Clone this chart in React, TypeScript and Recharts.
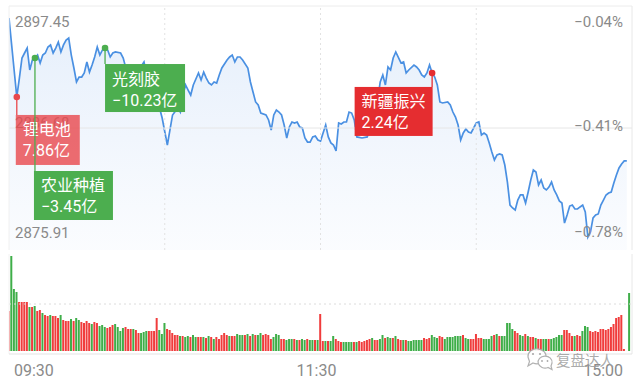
import React from 'react';
import { ComposedChart, Area, Bar, Cell, XAxis, YAxis, ReferenceLine, ReferenceDot } from 'recharts';

const FONT = "Roboto, 'Noto Sans CJK SC', 'Noto Sans', sans-serif";

// minute index since 09:30 (lunch break removed, 0..240)
const minutes = [
  0, 3, 4, 5, 6, 7, 8, 9, 10, 11, 12, 13, 14, 15, 16, 17, 18, 19, 20, 21,
  22, 23, 24, 25, 26, 27, 28, 29, 30, 31, 32, 33, 34, 35, 36, 37, 38, 39, 40, 41,
  43, 44, 45, 47, 49, 50, 52, 53, 55, 57, 58, 59, 61, 63, 65, 66, 67, 68, 69, 70,
  71, 73, 74, 75, 76, 77, 78, 79, 80, 81, 82, 84, 85, 86, 87, 88, 89, 90, 92, 93,
  94, 95, 96, 97, 99, 100, 101, 102, 103, 104, 105, 106, 107, 108, 109, 110, 111, 112, 113, 114,
  115, 116, 117, 118, 119, 120, 121, 122, 123, 124, 125, 126, 127, 128, 129, 130, 131, 132, 133, 134,
  136, 138, 140, 142, 143, 144, 145, 146, 147, 148, 149, 151, 152, 153, 154, 156, 157, 158, 159, 160,
  161, 162, 163, 164, 165, 166, 167, 169, 170, 171, 172, 173, 174, 175, 176, 177, 178, 179, 180, 181,
  182, 183, 184, 185, 186, 187, 188, 189, 190, 191, 192, 193, 194, 195, 196, 197, 198, 199, 200, 201,
  202, 203, 204, 205, 206, 207, 208, 209, 210, 211, 212, 213, 214, 215, 216, 217, 218, 219, 220, 221,
  222, 223, 224, 225, 226, 227, 228, 229, 230, 231, 232, 233, 234, 235, 236, 237, 238,
];

const prices = [
  2896.39, 2889.42, 2891.09, 2892.86, 2893.30, 2893.74, 2891.80, 2892.68, 2892.86, 2893.12, 2892.42, 2893.12, 2893.30, 2893.83, 2894.01, 2893.30, 2893.74, 2894.27, 2893.39, 2894.01,
  2894.45, 2894.62, 2893.12, 2891.98, 2890.74, 2891.18, 2891.18, 2891.54, 2892.51, 2891.62, 2892.24, 2892.95, 2893.83, 2893.12, 2893.57, 2893.74, 2893.57, 2892.95, 2893.30, 2893.39,
  2893.30, 2892.86, 2891.98, 2891.36, 2890.92, 2891.80, 2892.51, 2891.36, 2890.21, 2889.15, 2888.45, 2887.56, 2885.18, 2887.83, 2888.45, 2888.09, 2889.59, 2890.48, 2890.03, 2889.59,
  2890.48, 2891.54, 2890.92, 2891.62, 2891.09, 2890.65, 2890.48, 2890.74, 2890.65, 2891.36, 2891.98, 2892.68, 2892.95, 2893.12, 2892.51, 2892.95, 2892.95, 2892.68, 2891.98, 2890.74,
  2889.86, 2888.98, 2888.71, 2888.00, 2887.83, 2887.39, 2886.50, 2887.83, 2888.27, 2888.09, 2887.83, 2886.94, 2885.80, 2886.77, 2887.21, 2887.12, 2887.21, 2886.77, 2886.68, 2885.80,
  2885.44, 2885.44, 2885.89, 2885.97, 2885.62, 2885.53, 2886.24, 2886.94, 2885.89, 2885.36, 2885.18, 2884.65, 2887.12, 2887.03, 2887.21, 2887.21, 2888.09, 2888.00, 2887.39, 2885.89,
  2885.80, 2885.89, 2887.39, 2889.15, 2890.74, 2891.36, 2890.48, 2892.07, 2891.80, 2892.86, 2893.39, 2892.42, 2892.51, 2891.54, 2891.80, 2892.24, 2892.07, 2891.80, 2891.36, 2891.18,
  2891.54, 2892.24, 2891.54, 2891.18, 2890.48, 2888.98, 2888.89, 2888.98, 2888.71, 2888.09, 2887.65, 2886.94, 2885.62, 2886.24, 2886.59, 2886.33, 2886.24, 2886.68, 2887.12, 2887.21,
  2886.06, 2886.24, 2886.06, 2885.36, 2884.56, 2883.86, 2884.30, 2884.39, 2884.30, 2883.41, 2881.91, 2879.88, 2879.62, 2879.44, 2880.32, 2880.77, 2880.77, 2880.06, 2881.03, 2882.09,
  2882.97, 2882.80, 2881.65, 2882.09, 2881.38, 2881.21, 2881.47, 2881.91, 2881.21, 2880.77, 2880.24, 2880.06, 2878.29, 2879.00, 2879.79, 2879.88, 2879.53, 2879.53, 2879.71, 2879.88,
  2879.27, 2877.06, 2877.50, 2878.74, 2879.00, 2879.09, 2879.88, 2880.32, 2880.77, 2880.94, 2881.03, 2881.83, 2882.53, 2883.15, 2883.50, 2883.77, 2883.77,
];

// volume per minute (relative units), minute 0..239
const volumes = [
  40, 95, 62, 59, 49, 49, 49, 49, 44, 44,
  45, 40, 41, 38, 36, 35, 36, 35, 35, 33,
  36, 31, 30, 30, 32, 30, 33, 31, 29, 28,
  30, 28, 27, 29, 28, 25, 26, 24, 23, 24,
  26, 27, 24, 20, 23, 24, 22, 22, 22, 21,
  18, 18, 19, 20, 20, 20, 20, 33, 21, 17,
  28, 22, 21, 18, 16, 16, 15, 15, 14, 15,
  14, 16, 14, 14, 14, 14, 13, 15, 14, 12,
  14, 12, 16, 18, 16, 15, 15, 15, 17, 16,
  16, 16, 17, 15, 17, 16, 16, 18, 16, 17,
  16, 12, 14, 17, 16, 12, 12, 11, 12, 12,
  12, 11, 11, 12, 11, 12, 11, 11, 11, 11,
  37, 10, 10, 10, 10, 15, 12, 10, 9, 9,
  9, 9, 9, 9, 9, 10, 9, 10, 11, 12,
  13, 11, 11, 12, 16, 13, 14, 13, 13, 15,
  12, 11, 11, 11, 10, 10, 11, 11, 11, 11,
  13, 12, 13, 16, 14, 13, 15, 14, 12, 14,
  14, 14, 15, 15, 15, 16, 13, 12, 12, 12,
  17, 13, 13, 12, 12, 12, 15, 16, 17, 15,
  15, 15, 28, 28, 22, 20, 18, 16, 15, 17,
  15, 14, 14, 13, 12, 12, 12, 12, 12, 12,
  13, 14, 16, 16, 21, 21, 18, 15, 15, 16,
  15, 20, 25, 24, 20, 19, 20, 19, 22, 22,
  21, 22, 24, 27, 33, 34, 36, 2, 0, 58,
];

// R = up minute, G = down minute
const volumeDirs = (
  'RGGGRRRRGR' + 'GRRGRRGRRR' + 'GRRRGRGGRR' + 'RRGRRGGGRR' + 'RGGGGRRRGR' + 'RGGGRRRRGG' +
  'GRRRRRGRGG' + 'RGGRRGRGRG' + 'RRRRRGRRGG' + 'GRGRGRGGRR' + 'RRGGGRRGGG' + 'RGRGGRGGRG' +
  'RRGRGGRRRG' + 'GGGRGRRRRR' + 'GRRGGRGGRG' + 'RRGRGGGGGG' + 'RRRGGGRRGG' + 'GGGGGRGGRR' +
  'RRRGGGGRGR' + 'GGGGGRRGGR' + 'GRRGRRGGRG' + 'GGGGRRRRGR' + 'RGGGRRRRRR' + 'RRRRRRRRRG'
).split('');

const priceTicks = [2875.91, 2886.68, 2897.45];
const pctLabels = ['−0.78%', '−0.41%', '−0.04%'];
const timeTicks = [0, 120, 240];
const timeLabels = ['09:30', '11:30', '15:00'];

const eventMinutes = [3, 10, 37, 163];
const eventNames = ['锂电池', '农业种植', '光刻胶', '新疆振兴'];
const eventAmounts = ['7.86亿', '−3.45亿', '−10.23亿', '2.24亿'];

const watermarkText = '复盘达人';

// ---------- layout / style ----------
const W = 640;
const PRICE_H = 250;
const VOL_TOP = 250;
const VOL_H = 139;
const PLOT_LEFT = 9;
const PLOT_RIGHT = 632;
const RED = '#f03c3c';
const GREEN = '#3fae49';
const LINE_BLUE = '#4a90e2';
const LABEL_GRAY = '#8a8a8a';

const tickOffsets = [-17, -5, 16];
const pctOffsets = [-18, -2, 16];

const eventBoxes = [
  { dx: -1, dy: 18, w: 64, h: 50, align: 'left', color: '#e8474c', opacity: 0.8 },
  { dx: -1, dy: 113, w: 79, h: 49, align: 'left', color: '#4cae4f', opacity: 1 },
  { dx: 0, dy: 16, w: 80, h: 48, align: 'left', color: '#4cae4f', opacity: 1 },
  { dx: 0.5, dy: 14, w: 78, h: 49, align: 'right', color: '#e52d30', opacity: 1 },
];

const priceData = minutes.map((t, i) => ({ t, price: prices[i] }));
const volData = volumes.map((v, i) => ({ t: i, v, dir: volumeDirs[i] }));
const priceAt = (t: number) => prices[minutes.indexOf(t)];

const makePriceLabel = (i: number) => (props: any) => {
  const vb = props.viewBox || {};
  const y = vb.y;
  return (
    <g>
      <text x={PLOT_LEFT + 6} y={y + tickOffsets[i]} textAnchor="start" dominantBaseline="central"
        fill={LABEL_GRAY} fontSize={15} fontFamily={FONT}>
        {priceTicks[i].toFixed(2)}
      </text>
      <text x={PLOT_RIGHT - 9} y={y + pctOffsets[i]} textAnchor="end" dominantBaseline="central"
        fill={LABEL_GRAY} fontSize={15} fontFamily={FONT}>
        {pctLabels[i]}
      </text>
    </g>
  );
};

const TimeTick = (props: any) => {
  const { x, index } = props;
  const anchor = index === 0 ? 'start' : index === 1 ? 'middle' : 'end';
  const dx = index === 0 ? 5 : index === 1 ? -4 : -9;
  return (
    <text x={x + dx} y={120} textAnchor={anchor} dominantBaseline="central"
      fill={LABEL_GRAY} fontSize={16} fontFamily={FONT}>
      {timeLabels[index]}
    </text>
  );
};

const makeAnnotation = (i: number) => (props: any) => {
  const { cx, cy } = props;
  const b = eventBoxes[i];
  const left = b.align === 'left' ? cx + b.dx : cx + b.dx - b.w;
  const top = cy + b.dy;
  return (
    <g>
      <line x1={cx} y1={cy} x2={cx} y2={top} stroke={b.color} strokeWidth={1.3} />
      <rect x={left} y={top} width={b.w} height={b.h} fill={b.color} fillOpacity={b.opacity} />
      <text x={left + 7} y={top + 15} fill="#fff" fontSize={16} fontFamily={FONT} dominantBaseline="central">
        {eventNames[i]}
      </text>
      <text x={left + 7} y={top + 36} fill="#fff" fontSize={16} fontFamily={FONT} dominantBaseline="central">
        {eventAmounts[i]}
      </text>
      <circle cx={cx} cy={cy} r={3.3} fill={b.color} />
    </g>
  );
};

export default function App() {
  return (
    <div style={{ position: 'absolute', left: 0, top: 0, width: W, height: 389, background: '#fff', overflow: 'hidden' }}>
      <div style={{ position: 'absolute', left: 0, top: 0 }}>
        <ComposedChart width={W} height={PRICE_H} data={priceData}
          margin={{ top: 6, right: W - PLOT_RIGHT, bottom: 0, left: PLOT_LEFT }}>
          <defs>
            <linearGradient id="priceFill" x1="0" y1="0" x2="0" y2="1">
              <stop offset="0%" stopColor="#d1e2f8" stopOpacity={0.95} />
              <stop offset="100%" stopColor="#f6f9fe" stopOpacity={0.8} />
            </linearGradient>
          </defs>
          <XAxis dataKey="t" type="number" domain={[0, 240]} allowDataOverflow hide />
          <YAxis yAxisId="p" domain={[2875.91, 2897.45]} allowDataOverflow hide />
          <ReferenceLine yAxisId="p" y={2897.45} stroke="#ececec" />
          <ReferenceLine yAxisId="p" y={2886.68} stroke="#e6e6e6" />
          <ReferenceLine yAxisId="p" x={0} stroke="#f0f0f0" />
          <ReferenceLine yAxisId="p" x={240} stroke="#e8e8e8" />
          {[60, 120, 180].map((t) => (
            <ReferenceLine key={t} yAxisId="p" x={t} stroke="#e2e2e2" strokeDasharray="2 3" />
          ))}
          {priceTicks.map((v, i) => (
            <ReferenceLine key={'lbl' + v} yAxisId="p" y={v} stroke="none" ifOverflow="visible"
              label={{ content: makePriceLabel(i) } as any} />
          ))}
          <Area yAxisId="p" type="linear" dataKey="price" stroke={LINE_BLUE} strokeWidth={1.7}
            fill="url(#priceFill)" isAnimationActive={false} dot={false} activeDot={false} />
          {eventMinutes.map((t, i) => (
            <ReferenceDot key={t} yAxisId="p" x={t} y={priceAt(t)} r={3} ifOverflow="visible"
              shape={makeAnnotation(i)} />
          ))}
        </ComposedChart>
      </div>
      <div style={{ position: 'absolute', left: 0, top: VOL_TOP }}>
        <ComposedChart width={W} height={VOL_H} data={volData}
          margin={{ top: 4, right: W - PLOT_RIGHT, bottom: 5, left: PLOT_LEFT }}>
          <XAxis dataKey="t" type="number" domain={[0, 240]} allowDataOverflow ticks={timeTicks} interval={0}
            height={30} axisLine={{ stroke: '#e3e3e3' }} tickLine={false} tick={<TimeTick />} />
          <YAxis domain={[-3, 97]} allowDataOverflow hide />
          <ReferenceLine y={47} stroke="#dcdcdc" strokeDasharray="2 3" />
          <ReferenceLine x={240} stroke="#e8e8e8" />
          <ReferenceLine x={0} stroke="#f2f2f2" />
          <Bar dataKey="v" barSize={2} isAnimationActive={false}>
            {volData.map((d) => (
              <Cell key={d.t} fill={d.dir === 'R' ? RED : GREEN} />
            ))}
          </Bar>
        </ComposedChart>
      </div>
      <svg width={W} height={389} style={{ position: 'absolute', left: 0, top: 0, pointerEvents: 'none' }}>
        <g stroke="#a9a9a9" strokeWidth={1.2} fill="#fff" opacity={0.9}>
          <path d="M528 357 a9 7.5 0 1 1 5 6 l-5 3 l1.5 -4.5 z" />
          <path d="M552 363 a7 6 0 1 0 -4 4.5 l4 2 l-1 -3.5 z" />
        </g>
        <g fill="#a9a9a9">
          <circle cx={533} cy={354} r={1.1} />
          <circle cx={540} cy={354} r={1.1} />
          <circle cx={542} cy={361} r={0.9} />
          <circle cx={547.5} cy={361} r={0.9} />
        </g>
        <text x={556} y={359} dominantBaseline="central" fontSize={14.5} fill="#9c9c9c" fillOpacity={0.85}
          fontFamily="'Noto Sans CJK SC', sans-serif">{watermarkText}</text>
      </svg>
    </div>
  );
}
